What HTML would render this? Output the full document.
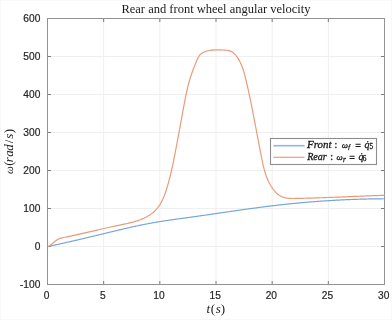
<!DOCTYPE html>
<html><head><meta charset="utf-8"><style>
html,body{margin:0;padding:0;background:#fff;}
body{width:392px;height:320px;overflow:hidden;}
svg{display:block;}
.tl{font-family:"Liberation Sans",Arial,sans-serif;font-size:10.2px;fill:#262626;stroke:#262626;stroke-width:0.2px;}
.ti{font-family:"Liberation Serif","Times New Roman",serif;font-size:12.5px;fill:#1a1a1a;}
.ml{font-family:"Liberation Serif","Times New Roman",serif;font-style:italic;font-size:13px;fill:#1a1a1a;}
.lg{font-family:"Liberation Serif","Times New Roman",serif;font-style:italic;font-size:10px;fill:#1a1a1a;stroke:#1a1a1a;stroke-width:0.3px;}
.sub{font-size:7.2px;}
.up{font-style:normal;}
</style></head><body>
<svg width="392" height="320" viewBox="0 0 392 320">
<rect x="0.5" y="0.5" width="391" height="319" fill="#fff" stroke="#f8f8f8" stroke-width="1"/>
<line x1="103.67" y1="18.5" x2="103.67" y2="284.5" stroke="#efefef" stroke-width="1"/>
<line x1="159.83" y1="18.5" x2="159.83" y2="284.5" stroke="#efefef" stroke-width="1"/>
<line x1="216.00" y1="18.5" x2="216.00" y2="284.5" stroke="#efefef" stroke-width="1"/>
<line x1="272.17" y1="18.5" x2="272.17" y2="284.5" stroke="#efefef" stroke-width="1"/>
<line x1="328.33" y1="18.5" x2="328.33" y2="284.5" stroke="#efefef" stroke-width="1"/>
<line x1="47.5" y1="246.50" x2="384.5" y2="246.50" stroke="#efefef" stroke-width="1"/>
<line x1="47.5" y1="208.50" x2="384.5" y2="208.50" stroke="#efefef" stroke-width="1"/>
<line x1="47.5" y1="170.50" x2="384.5" y2="170.50" stroke="#efefef" stroke-width="1"/>
<line x1="47.5" y1="132.50" x2="384.5" y2="132.50" stroke="#efefef" stroke-width="1"/>
<line x1="47.5" y1="94.50" x2="384.5" y2="94.50" stroke="#efefef" stroke-width="1"/>
<line x1="47.5" y1="56.50" x2="384.5" y2="56.50" stroke="#efefef" stroke-width="1"/>
<line x1="47.50" y1="284.5" x2="47.50" y2="281.0" stroke="#7a7a7a" stroke-width="1"/>
<line x1="47.50" y1="18.5" x2="47.50" y2="22.0" stroke="#7a7a7a" stroke-width="1"/>
<line x1="103.67" y1="284.5" x2="103.67" y2="281.0" stroke="#7a7a7a" stroke-width="1"/>
<line x1="103.67" y1="18.5" x2="103.67" y2="22.0" stroke="#7a7a7a" stroke-width="1"/>
<line x1="159.83" y1="284.5" x2="159.83" y2="281.0" stroke="#7a7a7a" stroke-width="1"/>
<line x1="159.83" y1="18.5" x2="159.83" y2="22.0" stroke="#7a7a7a" stroke-width="1"/>
<line x1="216.00" y1="284.5" x2="216.00" y2="281.0" stroke="#7a7a7a" stroke-width="1"/>
<line x1="216.00" y1="18.5" x2="216.00" y2="22.0" stroke="#7a7a7a" stroke-width="1"/>
<line x1="272.17" y1="284.5" x2="272.17" y2="281.0" stroke="#7a7a7a" stroke-width="1"/>
<line x1="272.17" y1="18.5" x2="272.17" y2="22.0" stroke="#7a7a7a" stroke-width="1"/>
<line x1="328.33" y1="284.5" x2="328.33" y2="281.0" stroke="#7a7a7a" stroke-width="1"/>
<line x1="328.33" y1="18.5" x2="328.33" y2="22.0" stroke="#7a7a7a" stroke-width="1"/>
<line x1="384.50" y1="284.5" x2="384.50" y2="281.0" stroke="#7a7a7a" stroke-width="1"/>
<line x1="384.50" y1="18.5" x2="384.50" y2="22.0" stroke="#7a7a7a" stroke-width="1"/>
<line x1="47.5" y1="284.50" x2="51.0" y2="284.50" stroke="#7a7a7a" stroke-width="1"/>
<line x1="384.5" y1="284.50" x2="381.0" y2="284.50" stroke="#7a7a7a" stroke-width="1"/>
<line x1="47.5" y1="246.50" x2="51.0" y2="246.50" stroke="#7a7a7a" stroke-width="1"/>
<line x1="384.5" y1="246.50" x2="381.0" y2="246.50" stroke="#7a7a7a" stroke-width="1"/>
<line x1="47.5" y1="208.50" x2="51.0" y2="208.50" stroke="#7a7a7a" stroke-width="1"/>
<line x1="384.5" y1="208.50" x2="381.0" y2="208.50" stroke="#7a7a7a" stroke-width="1"/>
<line x1="47.5" y1="170.50" x2="51.0" y2="170.50" stroke="#7a7a7a" stroke-width="1"/>
<line x1="384.5" y1="170.50" x2="381.0" y2="170.50" stroke="#7a7a7a" stroke-width="1"/>
<line x1="47.5" y1="132.50" x2="51.0" y2="132.50" stroke="#7a7a7a" stroke-width="1"/>
<line x1="384.5" y1="132.50" x2="381.0" y2="132.50" stroke="#7a7a7a" stroke-width="1"/>
<line x1="47.5" y1="94.50" x2="51.0" y2="94.50" stroke="#7a7a7a" stroke-width="1"/>
<line x1="384.5" y1="94.50" x2="381.0" y2="94.50" stroke="#7a7a7a" stroke-width="1"/>
<line x1="47.5" y1="56.50" x2="51.0" y2="56.50" stroke="#7a7a7a" stroke-width="1"/>
<line x1="384.5" y1="56.50" x2="381.0" y2="56.50" stroke="#7a7a7a" stroke-width="1"/>
<line x1="47.5" y1="18.50" x2="51.0" y2="18.50" stroke="#7a7a7a" stroke-width="1"/>
<line x1="384.5" y1="18.50" x2="381.0" y2="18.50" stroke="#7a7a7a" stroke-width="1"/>
<rect x="47.5" y="18.5" width="337.0" height="266.0" fill="none" stroke="#939393" stroke-width="1"/>
<path d="M48.01,246.54 L48.68,246.39 L49.34,246.25 L50.01,246.11 L50.68,245.97 L51.35,245.82 L52.01,245.68 L52.68,245.53 L53.35,245.39 L54.01,245.24 L54.68,245.10 L55.35,244.95 L56.01,244.81 L56.68,244.66 L57.35,244.51 L58.01,244.37 L58.68,244.22 L59.35,244.07 L60.01,243.92 L60.68,243.78 L61.34,243.63 L62.01,243.48 L62.68,243.33 L63.34,243.18 L64.01,243.03 L64.67,242.88 L65.34,242.73 L66.00,242.58 L66.67,242.43 L67.34,242.28 L68.00,242.12 L68.67,241.97 L69.33,241.82 L70.00,241.67 L70.66,241.52 L71.33,241.36 L71.99,241.21 L72.66,241.06 L73.32,240.90 L73.99,240.75 L74.65,240.59 L75.32,240.44 L75.98,240.29 L76.65,240.13 L77.31,239.98 L77.98,239.82 L78.64,239.66 L79.31,239.51 L79.97,239.35 L80.64,239.20 L81.30,239.04 L81.96,238.88 L82.63,238.73 L83.29,238.57 L83.96,238.41 L84.62,238.26 L85.29,238.10 L85.95,237.94 L86.62,237.78 L87.28,237.63 L87.94,237.47 L88.61,237.31 L89.27,237.15 L89.94,236.99 L90.60,236.84 L91.27,236.68 L91.93,236.52 L92.59,236.36 L93.26,236.20 L93.92,236.04 L94.59,235.88 L95.25,235.72 L95.91,235.56 L96.58,235.40 L97.24,235.24 L97.91,235.08 L98.57,234.92 L99.23,234.76 L99.90,234.60 L100.56,234.44 L101.23,234.28 L101.89,234.12 L102.55,233.96 L103.22,233.80 L103.88,233.64 L104.55,233.48 L105.21,233.32 L105.88,233.16 L106.54,232.99 L107.20,232.83 L107.87,232.67 L108.53,232.51 L109.20,232.35 L109.86,232.19 L110.52,232.03 L111.19,231.87 L111.85,231.71 L112.52,231.55 L113.18,231.39 L113.85,231.23 L114.51,231.07 L115.17,230.91 L115.84,230.75 L116.50,230.59 L117.17,230.43 L117.83,230.27 L118.50,230.11 L119.16,229.95 L119.83,229.80 L120.49,229.64 L121.16,229.48 L121.82,229.33 L122.49,229.17 L123.15,229.01 L123.82,228.86 L124.48,228.70 L125.15,228.55 L125.81,228.39 L126.48,228.24 L127.14,228.09 L127.81,227.94 L128.48,227.78 L129.14,227.63 L129.81,227.48 L130.47,227.33 L131.14,227.18 L131.81,227.03 L132.47,226.89 L133.14,226.74 L133.81,226.59 L134.47,226.45 L135.14,226.30 L135.81,226.16 L136.48,226.01 L137.14,225.87 L137.81,225.73 L138.48,225.59 L139.15,225.45 L139.82,225.31 L140.48,225.17 L141.15,225.03 L141.82,224.90 L142.49,224.76 L143.16,224.63 L143.83,224.49 L144.50,224.36 L145.17,224.23 L145.84,224.10 L146.51,223.97 L147.18,223.84 L147.85,223.72 L148.52,223.59 L149.19,223.46 L149.86,223.34 L150.53,223.22 L151.20,223.10 L151.87,222.98 L152.54,222.86 L153.21,222.74 L153.89,222.62 L154.56,222.51 L155.23,222.39 L155.90,222.28 L156.58,222.17 L157.25,222.05 L157.92,221.94 L158.59,221.83 L159.27,221.72 L159.94,221.62 L160.61,221.51 L161.29,221.40 L161.96,221.30 L162.64,221.19 L163.31,221.09 L163.98,220.98 L164.66,220.88 L165.33,220.78 L166.01,220.68 L166.68,220.57 L167.36,220.47 L168.03,220.37 L168.71,220.27 L169.38,220.18 L170.06,220.08 L170.73,219.98 L171.41,219.88 L172.08,219.79 L172.76,219.69 L173.43,219.59 L174.11,219.50 L174.78,219.40 L175.46,219.31 L176.14,219.21 L176.81,219.12 L177.49,219.02 L178.16,218.93 L178.84,218.84 L179.52,218.74 L180.19,218.65 L180.87,218.55 L181.54,218.46 L182.22,218.37 L182.90,218.27 L183.57,218.18 L184.25,218.09 L184.93,217.99 L185.60,217.90 L186.28,217.81 L186.95,217.71 L187.63,217.62 L188.31,217.53 L188.98,217.43 L189.66,217.34 L190.34,217.25 L191.01,217.15 L191.69,217.06 L192.36,216.96 L193.04,216.87 L193.72,216.77 L194.39,216.68 L195.07,216.58 L195.74,216.48 L196.42,216.39 L197.10,216.29 L197.77,216.20 L198.45,216.10 L199.12,216.00 L199.80,215.91 L200.48,215.81 L201.15,215.71 L201.83,215.61 L202.50,215.52 L203.18,215.42 L203.86,215.32 L204.53,215.22 L205.21,215.13 L205.88,215.03 L206.56,214.93 L207.23,214.83 L207.91,214.73 L208.59,214.64 L209.26,214.54 L209.94,214.44 L210.61,214.34 L211.29,214.24 L211.97,214.14 L212.64,214.05 L213.32,213.95 L213.99,213.85 L214.67,213.75 L215.34,213.65 L216.02,213.55 L216.70,213.45 L217.37,213.35 L218.05,213.26 L218.72,213.16 L219.40,213.06 L220.08,212.96 L220.75,212.86 L221.43,212.76 L222.10,212.66 L222.78,212.56 L223.45,212.46 L224.13,212.37 L224.81,212.27 L225.48,212.17 L226.16,212.07 L226.83,211.97 L227.51,211.87 L228.19,211.78 L228.86,211.68 L229.54,211.58 L230.21,211.48 L230.89,211.38 L231.57,211.29 L232.24,211.19 L232.92,211.09 L233.59,210.99 L234.27,210.90 L234.94,210.80 L235.62,210.70 L236.30,210.60 L236.97,210.51 L237.65,210.41 L238.33,210.31 L239.00,210.22 L239.68,210.12 L240.35,210.03 L241.03,209.93 L241.71,209.83 L242.38,209.74 L243.06,209.64 L243.73,209.55 L244.41,209.45 L245.09,209.36 L245.76,209.26 L246.44,209.17 L247.12,209.08 L247.79,208.98 L248.47,208.89 L249.14,208.79 L249.82,208.70 L250.50,208.61 L251.17,208.52 L251.85,208.42 L252.53,208.33 L253.20,208.24 L253.88,208.15 L254.56,208.06 L255.23,207.97 L255.91,207.88 L256.59,207.79 L257.26,207.70 L257.94,207.61 L258.62,207.52 L259.29,207.43 L259.97,207.34 L260.65,207.25 L261.32,207.16 L262.00,207.07 L262.68,206.99 L263.35,206.90 L264.03,206.81 L264.71,206.73 L265.39,206.64 L266.06,206.55 L266.74,206.47 L267.42,206.38 L268.09,206.30 L268.77,206.22 L269.45,206.13 L270.13,206.05 L270.80,205.97 L271.48,205.88 L272.16,205.80 L272.84,205.72 L273.51,205.64 L274.19,205.56 L274.87,205.48 L275.55,205.40 L276.22,205.32 L276.90,205.24 L277.58,205.16 L278.26,205.08 L278.94,205.01 L279.61,204.93 L280.29,204.85 L280.97,204.78 L281.65,204.70 L282.33,204.63 L283.00,204.55 L283.68,204.48 L284.36,204.40 L285.04,204.33 L285.72,204.26 L286.40,204.19 L287.07,204.11 L287.75,204.04 L288.43,203.97 L289.11,203.90 L289.79,203.83 L290.47,203.76 L291.15,203.69 L291.82,203.63 L292.50,203.56 L293.18,203.49 L293.86,203.42 L294.54,203.36 L295.22,203.29 L295.90,203.23 L296.58,203.16 L297.26,203.10 L297.94,203.03 L298.61,202.97 L299.29,202.91 L299.97,202.84 L300.65,202.78 L301.33,202.72 L302.01,202.66 L302.69,202.60 L303.37,202.54 L304.05,202.48 L304.73,202.42 L305.41,202.36 L306.09,202.30 L306.77,202.25 L307.45,202.19 L308.13,202.13 L308.81,202.08 L309.49,202.02 L310.17,201.96 L310.85,201.91 L311.53,201.86 L312.21,201.80 L312.89,201.75 L313.57,201.70 L314.25,201.64 L314.93,201.59 L315.61,201.54 L316.29,201.49 L316.97,201.44 L317.65,201.39 L318.33,201.34 L319.01,201.29 L319.69,201.24 L320.37,201.19 L321.05,201.15 L321.73,201.10 L322.41,201.05 L323.10,201.01 L323.78,200.96 L324.46,200.91 L325.14,200.87 L325.82,200.82 L326.50,200.78 L327.18,200.74 L327.86,200.69 L328.54,200.65 L329.22,200.61 L329.90,200.57 L330.59,200.53 L331.27,200.49 L331.95,200.45 L332.63,200.41 L333.31,200.37 L333.99,200.33 L334.67,200.29 L335.36,200.25 L336.04,200.22 L336.72,200.18 L337.40,200.14 L338.08,200.11 L338.76,200.07 L339.45,200.04 L340.13,200.00 L340.81,199.97 L341.49,199.93 L342.17,199.90 L342.85,199.87 L343.54,199.84 L344.22,199.81 L344.90,199.77 L345.58,199.74 L346.26,199.71 L346.95,199.68 L347.63,199.65 L348.31,199.63 L348.99,199.60 L349.68,199.57 L350.36,199.54 L351.04,199.51 L351.72,199.49 L352.41,199.46 L353.09,199.44 L353.77,199.41 L354.45,199.39 L355.14,199.36 L355.82,199.34 L356.50,199.31 L357.18,199.29 L357.87,199.27 L358.55,199.25 L359.23,199.23 L359.91,199.21 L360.60,199.18 L361.28,199.16 L361.96,199.15 L362.65,199.13 L363.33,199.11 L364.01,199.09 L364.70,199.07 L365.38,199.05 L366.06,199.04 L366.75,199.02 L367.43,199.00 L368.11,198.99 L368.80,198.97 L369.48,198.96 L370.16,198.95 L370.85,198.93 L371.53,198.92 L372.21,198.91 L372.90,198.89 L373.58,198.88 L374.26,198.87 L374.95,198.86 L375.63,198.85 L376.31,198.84 L377.00,198.83 L377.68,198.82 L378.37,198.81 L379.05,198.80 L379.73,198.80 L380.42,198.79 L381.10,198.78 L381.78,198.78 L382.47,198.77 L383.15,198.76 L383.84,198.76 L384.52,198.75" fill="none" stroke="#74a8d8" stroke-width="1.2" stroke-linejoin="round"/>
<path d="M48.05,246.55 L49.03,246.03 L49.98,245.42 L50.90,244.75 L51.80,244.02 L52.69,243.27 L53.57,242.51 L54.46,241.76 L55.37,241.04 L56.30,240.37 L57.26,239.78 L58.25,239.26 L59.28,238.80 L60.34,238.41 L61.41,238.07 L62.51,237.76 L63.62,237.50 L64.75,237.25 L65.88,237.02 L67.01,236.81 L68.15,236.59 L69.28,236.36 L70.41,236.13 L71.54,235.90 L72.66,235.67 L73.79,235.43 L74.91,235.19 L76.03,234.95 L77.16,234.71 L78.28,234.46 L79.39,234.21 L80.51,233.96 L81.63,233.70 L82.74,233.45 L83.86,233.19 L84.97,232.93 L86.09,232.68 L87.20,232.42 L88.31,232.15 L89.42,231.89 L90.53,231.63 L91.65,231.37 L92.76,231.10 L93.87,230.84 L94.98,230.58 L96.09,230.32 L97.20,230.05 L98.31,229.79 L99.42,229.53 L100.54,229.27 L101.65,229.01 L102.76,228.75 L103.88,228.50 L104.99,228.24 L106.11,227.99 L107.22,227.74 L108.34,227.49 L109.46,227.24 L110.58,227.00 L111.70,226.76 L112.82,226.52 L113.95,226.28 L115.07,226.05 L116.20,225.82 L117.33,225.59 L118.46,225.36 L119.59,225.13 L120.71,224.90 L121.84,224.67 L122.97,224.44 L124.10,224.21 L125.23,223.96 L126.35,223.72 L127.48,223.46 L128.60,223.20 L129.71,222.93 L130.83,222.65 L131.94,222.36 L133.05,222.06 L134.16,221.74 L135.26,221.41 L136.35,221.07 L137.44,220.71 L138.53,220.34 L139.61,219.95 L140.68,219.53 L141.75,219.10 L142.81,218.65 L143.86,218.18 L144.89,217.69 L145.92,217.18 L146.93,216.64 L147.92,216.08 L148.89,215.50 L149.85,214.89 L150.78,214.26 L151.69,213.60 L152.58,212.92 L153.44,212.21 L154.27,211.47 L155.08,210.70 L155.85,209.91 L156.60,209.09 L157.31,208.24 L158.00,207.37 L158.66,206.47 L159.29,205.55 L159.90,204.61 L160.49,203.64 L161.05,202.66 L161.59,201.66 L162.11,200.64 L162.61,199.61 L163.09,198.56 L163.55,197.50 L163.99,196.43 L164.42,195.35 L164.83,194.26 L165.23,193.16 L165.62,192.05 L165.99,190.94 L166.35,189.82 L166.70,188.69 L167.04,187.57 L167.38,186.45 L167.70,185.32 L168.02,184.20 L168.34,183.07 L168.64,181.95 L168.95,180.83 L169.24,179.72 L169.53,178.60 L169.82,177.48 L170.10,176.37 L170.37,175.25 L170.65,174.14 L170.91,173.03 L171.17,171.92 L171.43,170.80 L171.68,169.69 L171.93,168.58 L172.18,167.47 L172.42,166.37 L172.66,165.26 L172.90,164.15 L173.13,163.04 L173.36,161.93 L173.59,160.82 L173.82,159.71 L174.04,158.60 L174.26,157.49 L174.48,156.38 L174.70,155.27 L174.91,154.16 L175.13,153.05 L175.34,151.93 L175.55,150.82 L175.76,149.71 L175.97,148.59 L176.18,147.47 L176.39,146.35 L176.60,145.24 L176.81,144.11 L177.02,142.99 L177.23,141.87 L177.44,140.75 L177.65,139.62 L177.86,138.49 L178.07,137.37 L178.28,136.24 L178.48,135.11 L178.69,133.98 L178.90,132.85 L179.11,131.72 L179.32,130.59 L179.53,129.45 L179.74,128.32 L179.95,127.19 L180.16,126.06 L180.37,124.92 L180.57,123.79 L180.78,122.65 L180.99,121.52 L181.20,120.39 L181.41,119.25 L181.62,118.12 L181.83,116.98 L182.03,115.85 L182.24,114.72 L182.45,113.59 L182.66,112.45 L182.87,111.32 L183.07,110.19 L183.28,109.06 L183.49,107.93 L183.70,106.80 L183.91,105.67 L184.12,104.55 L184.33,103.42 L184.54,102.29 L184.76,101.17 L184.97,100.05 L185.19,98.92 L185.42,97.80 L185.64,96.68 L185.87,95.57 L186.11,94.45 L186.34,93.33 L186.59,92.22 L186.83,91.11 L187.09,89.99 L187.35,88.89 L187.61,87.78 L187.88,86.67 L188.16,85.57 L188.44,84.47 L188.73,83.37 L189.03,82.27 L189.34,81.17 L189.65,80.08 L189.97,78.99 L190.30,77.90 L190.64,76.81 L190.99,75.72 L191.35,74.64 L191.72,73.56 L192.10,72.48 L192.48,71.40 L192.88,70.33 L193.28,69.25 L193.69,68.18 L194.11,67.10 L194.53,66.03 L194.96,64.95 L195.40,63.88 L195.85,62.80 L196.30,61.72 L196.75,60.65 L197.21,59.57 L197.69,58.50 L198.21,57.46 L198.77,56.47 L199.39,55.54 L200.10,54.69 L200.89,53.93 L201.77,53.27 L202.72,52.68 L203.73,52.17 L204.78,51.73 L205.87,51.35 L206.98,51.03 L208.11,50.76 L209.23,50.53 L210.36,50.33 L211.49,50.18 L212.62,50.06 L213.76,49.97 L214.89,49.90 L216.03,49.87 L217.18,49.85 L218.33,49.85 L219.48,49.87 L220.64,49.90 L221.80,49.94 L222.97,49.99 L224.15,50.05 L225.32,50.13 L226.48,50.25 L227.62,50.41 L228.73,50.64 L229.81,50.94 L230.85,51.32 L231.85,51.81 L232.78,52.40 L233.67,53.09 L234.51,53.86 L235.29,54.70 L236.04,55.60 L236.75,56.53 L237.42,57.48 L238.05,58.44 L238.66,59.42 L239.23,60.42 L239.77,61.42 L240.29,62.44 L240.78,63.47 L241.24,64.51 L241.68,65.55 L242.10,66.61 L242.49,67.68 L242.87,68.75 L243.23,69.83 L243.58,70.92 L243.91,72.01 L244.22,73.11 L244.53,74.21 L244.82,75.32 L245.11,76.43 L245.38,77.54 L245.66,78.66 L245.93,79.77 L246.19,80.89 L246.45,82.01 L246.71,83.13 L246.97,84.25 L247.23,85.37 L247.48,86.49 L247.73,87.61 L247.98,88.73 L248.23,89.85 L248.48,90.97 L248.72,92.09 L248.96,93.22 L249.20,94.34 L249.44,95.46 L249.67,96.59 L249.91,97.71 L250.14,98.83 L250.37,99.96 L250.60,101.08 L250.83,102.20 L251.06,103.33 L251.29,104.45 L251.51,105.58 L251.74,106.70 L251.96,107.82 L252.18,108.95 L252.40,110.07 L252.62,111.19 L252.84,112.31 L253.06,113.44 L253.28,114.56 L253.50,115.68 L253.72,116.80 L253.93,117.92 L254.15,119.04 L254.37,120.16 L254.58,121.28 L254.80,122.40 L255.01,123.52 L255.23,124.64 L255.44,125.76 L255.66,126.88 L255.87,128.00 L256.09,129.12 L256.30,130.24 L256.51,131.36 L256.73,132.48 L256.94,133.60 L257.16,134.72 L257.37,135.84 L257.58,136.96 L257.80,138.08 L258.01,139.20 L258.23,140.33 L258.44,141.45 L258.66,142.57 L258.87,143.70 L259.09,144.82 L259.31,145.95 L259.52,147.08 L259.74,148.21 L259.96,149.34 L260.17,150.47 L260.39,151.60 L260.61,152.73 L260.83,153.86 L261.05,155.00 L261.27,156.13 L261.49,157.27 L261.72,158.41 L261.95,159.54 L262.18,160.68 L262.42,161.81 L262.66,162.94 L262.91,164.07 L263.17,165.20 L263.43,166.33 L263.71,167.45 L263.99,168.56 L264.29,169.68 L264.60,170.78 L264.92,171.89 L265.26,172.98 L265.61,174.07 L265.97,175.15 L266.36,176.23 L266.76,177.29 L267.17,178.35 L267.61,179.40 L268.07,180.44 L268.54,181.47 L269.04,182.49 L269.57,183.50 L270.11,184.50 L270.68,185.49 L271.27,186.46 L271.90,187.42 L272.54,188.37 L273.22,189.30 L273.92,190.20 L274.65,191.08 L275.41,191.93 L276.20,192.75 L277.02,193.52 L277.86,194.24 L278.74,194.92 L279.65,195.54 L280.59,196.11 L281.56,196.61 L282.56,197.04 L283.59,197.41 L284.65,197.70 L285.74,197.94 L286.85,198.13 L287.97,198.27 L289.12,198.37 L290.28,198.43 L291.45,198.47 L292.63,198.48 L293.81,198.48 L295.00,198.46 L296.19,198.44 L297.37,198.42 L298.55,198.39 L299.73,198.37 L300.90,198.34 L302.08,198.32 L303.25,198.29 L304.42,198.26 L305.58,198.23 L306.75,198.20 L307.91,198.17 L309.07,198.14 L310.23,198.10 L311.39,198.07 L312.54,198.03 L313.70,198.00 L314.85,197.96 L316.00,197.93 L317.15,197.89 L318.29,197.85 L319.44,197.81 L320.58,197.77 L321.73,197.73 L322.87,197.69 L324.01,197.65 L325.15,197.61 L326.29,197.57 L327.42,197.52 L328.56,197.48 L329.70,197.44 L330.83,197.39 L331.97,197.35 L333.10,197.30 L334.23,197.26 L335.37,197.21 L336.50,197.17 L337.63,197.12 L338.76,197.07 L339.90,197.03 L341.03,196.98 L342.16,196.93 L343.29,196.89 L344.42,196.84 L345.55,196.79 L346.69,196.75 L347.82,196.70 L348.95,196.65 L350.08,196.61 L351.22,196.56 L352.35,196.51 L353.49,196.46 L354.62,196.42 L355.76,196.37 L356.89,196.32 L358.03,196.28 L359.17,196.23 L360.31,196.18 L361.45,196.14 L362.59,196.09 L363.73,196.05 L364.88,196.00 L366.02,195.96 L367.17,195.91 L368.32,195.87 L369.47,195.83 L370.62,195.78 L371.77,195.74 L372.92,195.70 L374.08,195.66 L375.24,195.62 L376.40,195.58 L377.56,195.54 L378.72,195.50 L379.89,195.46 L381.06,195.42 L382.23,195.38 L383.40,195.35 L384.57,195.31" fill="none" stroke="#eb9a78" stroke-width="1.2" stroke-linejoin="round"/>
<text x="40.3" y="288.30" text-anchor="end" class="tl">-100</text>
<text x="40.3" y="250.30" text-anchor="end" class="tl">0</text>
<text x="40.3" y="212.30" text-anchor="end" class="tl">100</text>
<text x="40.3" y="174.30" text-anchor="end" class="tl">200</text>
<text x="40.3" y="136.30" text-anchor="end" class="tl">300</text>
<text x="40.3" y="98.30" text-anchor="end" class="tl">400</text>
<text x="40.3" y="60.30" text-anchor="end" class="tl">500</text>
<text x="40.3" y="22.30" text-anchor="end" class="tl">600</text>
<text x="46.70" y="299.1" text-anchor="middle" class="tl">0</text>
<text x="102.87" y="299.1" text-anchor="middle" class="tl">5</text>
<text x="159.03" y="299.1" text-anchor="middle" class="tl">10</text>
<text x="215.20" y="299.1" text-anchor="middle" class="tl">15</text>
<text x="271.37" y="299.1" text-anchor="middle" class="tl">20</text>
<text x="327.53" y="299.1" text-anchor="middle" class="tl">25</text>
<text x="383.70" y="299.1" text-anchor="middle" class="tl">30</text>
<text x="216" y="12.7" text-anchor="middle" class="ti">Rear and front wheel angular velocity</text>
<text y="312.7" class="ml"><tspan x="206.5">t</tspan><tspan x="210.8" class="up">(</tspan><tspan x="215.8">s</tspan><tspan x="220.85" class="up">)</tspan></text>
<text transform="translate(13.0,174) rotate(-90)" class="ml"><tspan x="-0.1" style="font-size:11px">ω</tspan><tspan x="8.15" class="up">(</tspan><tspan x="11.78">r</tspan><tspan x="17.28">a</tspan><tspan x="23.18">d</tspan><tspan x="30.85" class="up">/</tspan><tspan x="35.28">s</tspan><tspan x="40.7" class="up">)</tspan></text>
<rect x="270.5" y="138.5" width="106" height="26" fill="#fff" stroke="#8e8e8e" stroke-width="1.1"/>
<line x1="273.3" y1="145.7" x2="304.6" y2="145.7" stroke="#8dbae2" stroke-width="1.6"/>
<line x1="273.3" y1="157.3" x2="304.6" y2="157.3" stroke="#ee9c7c" stroke-width="1.2"/>
<text x="307.0" y="147.6" class="lg" textLength="24.6" lengthAdjust="spacingAndGlyphs">Front</text>
<text x="334.6" y="147.6" class="lg up" >:</text>
<text x="341.8" y="147.6" class="lg" style="font-size:9px" textLength="6.2" lengthAdjust="spacingAndGlyphs">ω</text>
<text x="348.3" y="149.1" class="lg sub" style="font-size:6.3px">f</text>
<text x="355.3" y="149.0" class="lg up" >=</text>
<text x="364.4" y="147.6" class="lg" >q</text>
<text x="366.0" y="148.2" class="lg up" >˙</text>
<text x="369.4" y="149.1" class="lg sub up" >5</text>
<text x="307.2" y="159.5" class="lg" textLength="19.6" lengthAdjust="spacingAndGlyphs">Rear</text>
<text x="330.3" y="159.5" class="lg up" >:</text>
<text x="336.6" y="159.5" class="lg" style="font-size:9px" textLength="6.2" lengthAdjust="spacingAndGlyphs">ω</text>
<text x="342.9" y="161.5" class="lg sub" >r</text>
<text x="349.2" y="160.9" class="lg up" >=</text>
<text x="358.4" y="159.5" class="lg" >q</text>
<text x="360.0" y="160.1" class="lg up" >˙</text>
<text x="362.8" y="161.0" class="lg sub up" >6</text>
</svg>
</body></html>
